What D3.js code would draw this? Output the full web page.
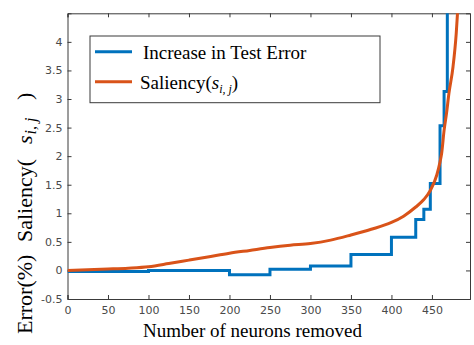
<!DOCTYPE html>
<html>
<head>
<meta charset="utf-8">
<script src="https://cdn.jsdelivr.net/npm/d3@7"></script>
<style>
  html, body { margin: 0; padding: 0; background: #fff; }
  svg { display: block; }
  .tick text { font-family: "DejaVu Sans", sans-serif; font-size: 11px; fill: #4a4a4a; }
  .serif { font-family: "Liberation Serif", "Times New Roman", serif; fill: #000; white-space: pre; }
</style>
</head>
<body>
<svg id="chart" width="474" height="345"></svg>
<script>
// Neurons removed (x) at which the test-error increase changes, and the level after each change
const errorSteps = [0, 100, 200, 250, 300, 350, 400, 430, 440, 448, 460, 465, 469, 497];
const errorValues = [-0.02, 0.0, -0.075, 0.02, 0.077, 0.28, 0.58, 0.89, 1.07, 1.52, 2.53, 3.13, 6.0, 6.0];

// Cumulative saliency of the removed neurons
const salNeurons = [0, 25, 50, 75, 100, 125, 150, 175, 200, 225, 250, 275, 300, 325, 350, 375, 400, 415, 430, 440, 448, 456, 460, 462, 465, 468, 471, 476, 480, 482, 486];
const salValues  = [0, 0.012, 0.025, 0.04, 0.065, 0.12, 0.18, 0.24, 0.30, 0.35, 0.40, 0.44, 0.47, 0.53, 0.62, 0.72, 0.84, 0.95, 1.11, 1.24, 1.40, 1.67, 1.90, 2.05, 2.45, 2.75, 3.10, 3.56, 4.15, 4.60, 5.4];

const xTicks = [0, 50, 100, 150, 200, 250, 300, 350, 400, 450];
const yTicks = [-0.5, 0, 0.5, 1, 1.5, 2, 2.5, 3, 3.5, 4];
const seriesNames = ["Increase in Test Error", "Saliency"];
const colors = ["#0072BD", "#D95319"];

const svg = d3.select("#chart");
const pLeft = 67.5, pRight = 470, pTop = 13.3, pBottom = 299;
const x = d3.scaleLinear().domain([0, 497]).range([pLeft, pRight]);
const y = d3.scaleLinear().domain([-0.5, 4.5]).range([pBottom, pTop]);

svg.append("defs").append("clipPath").attr("id", "plotClip")
  .append("rect").attr("x", pLeft).attr("y", pTop)
  .attr("width", pRight - pLeft).attr("height", pBottom - pTop);

// axes with inward ticks on all four sides
const axisColor = "#3a3a3a";
const tk = 4;
const gx = svg.append("g").attr("transform", `translate(0,${pBottom})`)
  .call(d3.axisBottom(x).tickValues(xTicks).tickSize(-tk).tickPadding(7).tickFormat(d3.format("d")));
const gxTop = svg.append("g").attr("transform", `translate(0,${pTop})`)
  .call(d3.axisTop(x).tickValues(xTicks).tickSize(-tk).tickFormat(""));
const gy = svg.append("g").attr("transform", `translate(${pLeft},0)`)
  .call(d3.axisLeft(y).tickValues(yTicks).tickSize(-tk).tickPadding(5).tickFormat(d => String(d)));
const gyR = svg.append("g").attr("transform", `translate(${pRight},0)`)
  .call(d3.axisRight(y).tickValues(yTicks).tickSize(-tk).tickFormat(""));
[gx, gxTop, gy, gyR].forEach(g => {
  g.select(".domain").attr("stroke", axisColor).attr("stroke-width", 1);
  g.selectAll(".tick line").attr("stroke", axisColor);
});

const plot = svg.append("g").attr("clip-path", "url(#plotClip)");

const errLine = d3.line()
  .x((d, i) => x(errorSteps[i]))
  .y(d => y(d))
  .curve(d3.curveStepAfter);
plot.append("path").datum(errorValues)
  .attr("d", errLine).attr("fill", "none")
  .attr("stroke", colors[0]).attr("stroke-width", 3);

const salLine = d3.line()
  .x((d, i) => x(salNeurons[i]))
  .y(d => y(d))
  .curve(d3.curveMonotoneX);
plot.append("path").datum(salValues)
  .attr("d", salLine).attr("fill", "none")
  .attr("stroke", colors[1]).attr("stroke-width", 3);

// legend
const lg = svg.append("g");
lg.append("rect").attr("x", 90).attr("y", 36).attr("width", 290).attr("height", 66.7)
  .attr("fill", "#fff").attr("stroke", axisColor).attr("stroke-width", 1);
lg.append("line").attr("x1", 95).attr("x2", 132).attr("y1", 51.7).attr("y2", 51.7)
  .attr("stroke", colors[0]).attr("stroke-width", 3);
lg.append("line").attr("x1", 95).attr("x2", 132).attr("y1", 81.7).attr("y2", 81.7)
  .attr("stroke", colors[1]).attr("stroke-width", 3);
lg.append("text").attr("class", "serif").attr("x", 143).attr("y", 58.5)
  .attr("font-size", 19).text(seriesNames[0]);
const t2 = lg.append("text").attr("class", "serif").attr("x", 140).attr("y", 88.5).attr("font-size", 19);
t2.append("tspan").text(seriesNames[1] + "(");
t2.append("tspan").attr("font-style", "italic").text("s");
t2.append("tspan").attr("font-size", 12).attr("font-style", "italic").attr("dy", 4).text("i, j");
t2.append("tspan").attr("dy", -4).text(")");

// axis titles
svg.append("text").attr("class", "serif").attr("x", 252.5).attr("y", 336.5)
  .attr("text-anchor", "middle").attr("font-size", 19).text("Number of neurons removed");

// rotated y title; pieces are placed along the rotated baseline
const yl = svg.append("text").attr("class", "serif")
  .attr("transform", "translate(32,334) rotate(-90)")
  .attr("font-size", 22);
yl.append("tspan").attr("x", 0).text("Error(%)");
yl.append("tspan").attr("x", 92).text("Saliency(");
yl.append("tspan").attr("x", 190).attr("font-style", "italic").text("s");
yl.append("tspan").attr("font-size", 16).attr("font-style", "italic").attr("dx", 1).attr("dy", 4).text("i, j");
yl.append("tspan").attr("x", 234).attr("dy", -4).text(")");
</script>
</body>
</html>
